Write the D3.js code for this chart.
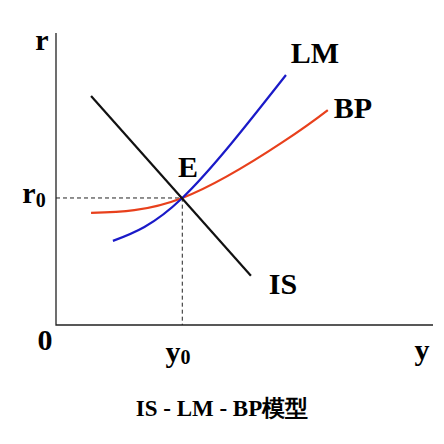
<!DOCTYPE html>
<html><head><meta charset="utf-8">
<script src="https://cdn.jsdelivr.net/npm/d3@7"></script>
<style>body{margin:0;background:#fff} text{font-family:'Liberation Serif','DejaVu Serif',serif;font-weight:bold}</style>
</head><body>
<script>
// curve points (y = output, r = interest rate)
var equilibrium = [33.5, 43.5];
var isCurve = [[9.3, 78.4], [51.7, 16.9]];
var lmCurve = [[15.1, 28.8], [33.5, 43.5], [61.0, 85.6]];
var bpCurve = [[9.3, 38.4], [33.5, 43.5], [60.2, 62.7], [72.1, 73.6]];

var width = 444, height = 444;
var x = d3.scaleLinear().domain([0, 100]).range([56, 433]);
var y = d3.scaleLinear().domain([0, 100]).range([325, 33]);

var svg = d3.select('body').append('svg')
    .attr('width', width).attr('height', height);

// axes
svg.append('path').attr('d', 'M' + x(0) + ',' + y(100) + 'V' + y(0) + 'H' + x(100))
    .attr('fill', 'none').attr('stroke', '#222').attr('stroke-width', 1.3);

// dashed guides
svg.append('path')
    .attr('d', 'M' + x(0) + ',' + y(equilibrium[1]) + 'H' + x(equilibrium[0]) + 'V' + y(0))
    .attr('fill', 'none').attr('stroke', '#222').attr('stroke-dasharray', '4,3').attr('stroke-width', 1);

var line = d3.line().x(function(d) { return x(d[0]); }).y(function(d) { return y(d[1]); })
    .curve(d3.curveNatural);

svg.append('path').datum(bpCurve).attr('d', line).attr('fill', 'none').attr('stroke', '#e8401c').attr('stroke-width', 2.2);
svg.append('path').datum(lmCurve).attr('d', line).attr('fill', 'none').attr('stroke', '#1a1ac8').attr('stroke-width', 2.2);
svg.append('path').datum(isCurve).attr('d', line).attr('fill', 'none').attr('stroke', '#111').attr('stroke-width', 2.2);

function label(t, px, py, size) {
    return svg.append('text').attr('x', px).attr('y', py).attr('text-anchor', 'middle')
        .attr('font-size', size || 30).text(t);
}
label('r', 42, 50);
label('0', 45, 350);
label('LM', 315, 63);
label('BP', 353, 118);
label('E', 188, 177);
label('IS', 283, 294);
label('y', 422, 360);

var r0 = label('r', 34, 203);
r0.append('tspan').attr('font-size', 20).attr('dy', 4).text('0');
var y0 = label('y', 178, 362);
y0.append('tspan').attr('font-size', 20).attr('dy', 2).text('0');

svg.append('text').attr('x', 222).attr('y', 416).attr('text-anchor', 'middle')
    .attr('font-size', 23).text('IS - LM - BP模型');
</script>
</body></html>
